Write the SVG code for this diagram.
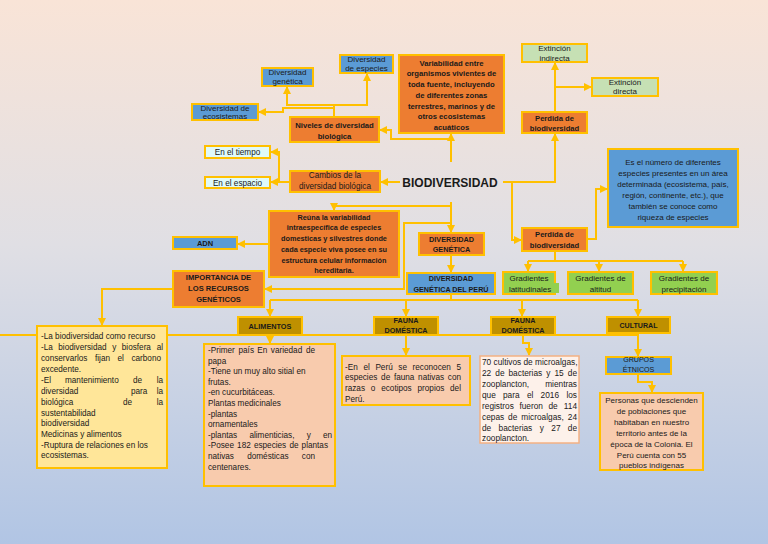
<svg xmlns="http://www.w3.org/2000/svg" width="768" height="544" viewBox="0 0 768 544">
<defs>
<linearGradient id="bg" x1="0" y1="0" x2="0" y2="1">
<stop offset="0" stop-color="#f9e4d7"/>
<stop offset="0.45" stop-color="#e0dfe4"/>
<stop offset="1" stop-color="#b1c5e4"/>
</linearGradient>
<marker id="ar" viewBox="0 0 8 8" refX="7" refY="4" markerWidth="8" markerHeight="8" markerUnits="userSpaceOnUse" orient="auto">
<path d="M0,0 L8,4 L0,8 z" fill="#ffc000"/>
</marker>
<style>
.c{fill:none;stroke:#ffc000;stroke-width:2}
.a{marker-end:url(#ar)}
.b{stroke:#ffc000;stroke-width:2}
.or{fill:#ed7d31}
.bl{fill:#5b9bd5}
.cy{fill:#dffafa}
.lg{fill:#c6e0b4}
.gr{fill:#92d050}
.go{fill:#bf9000}
.pe{fill:#f8cbad}
.ye{fill:#ffe699}
.wh{fill:#fdf1ea;stroke:#f4b183;stroke-width:1.5}
text{font-family:"Liberation Sans",Arial,sans-serif;font-size:8.2px;fill:#1a1a1a}
.m{text-anchor:middle}
.e{text-anchor:end}
.bd{font-weight:bold}
.s8{font-size:8px}
.f2{font-size:8.3px}
</style>
</defs>
<rect width="768" height="544" fill="url(#bg)"/>
<g id="connectors">
<path class="c a" d="M334,117 V105 H287 V87"/>
<path class="c a" d="M334,105 H367 V74"/>
<path class="c a" d="M334,108 H283 V112 H259"/>
<path class="c a" d="M451,162 V134"/>
<path class="c a" d="M451,139 H391 V130 H380"/>
<path class="c a" d="M400,182 H381"/>
<path class="c a" d="M290,182 H279 V152 H271"/>
<path class="c a" d="M279,182 H271"/>
<path class="c a" d="M503,182 H555 V134"/>
<path class="c a" d="M555,112 V63"/>
<path class="c a" d="M555,87 H591"/>
<path class="c a" d="M512,182 V240 H521"/>
<path class="c a" d="M587,239 H596 V189 H607"/>
<path class="c" d="M555,251 V261 M528,261 H683"/>
<path class="c a" d="M528,261 V271"/>
<path class="c a" d="M599,261 V271"/>
<path class="c a" d="M683,261 V271"/>
<path class="c a" d="M451,202 V232"/>
<path class="c a" d="M451,206 H334 V210"/>
<path class="c a" d="M451,223 H404 V289 H265"/>
<path class="c a" d="M269,244 H238"/>
<path class="c a" d="M451,255 V272"/>
<path class="c" d="M451,294 V300 M270,300 H638"/>
<path class="c a" d="M270,300 V316"/>
<path class="c a" d="M406,300 V316"/>
<path class="c a" d="M522,300 V316"/>
<path class="c a" d="M638,300 V316"/>
<path class="c a" d="M173,289 H102 V325"/>
<path class="c a" d="M0,335 H638 V356"/>
<path class="c a" d="M270,335 V343"/>
<path class="c a" d="M406,335 V355"/>
<path class="c a" d="M523,335 V343 H529 V355"/>
<path class="c a" d="M638,374 V382 H652 V392"/>
</g>
<g id="n-genetica"><rect class="bl b" x="262" y="68" width="51" height="18"/><text class="m s8" x="287.5" y="75">Diversidad</text><text class="m s8" x="287.5" y="84">genética</text></g>
<g id="n-especies"><rect class="bl b" x="340" y="55" width="53" height="18"/><text class="m s8" x="366.5" y="62">Diversidad</text><text class="m s8" x="366.5" y="71">de especies</text></g>
<g id="n-ecosistemas"><rect class="bl b" x="192" y="104" width="66" height="16"/><text class="m s8" x="225" y="111">Diversidad de</text><text class="m s8" x="225" y="118.8">ecosistemas</text></g>
<g id="n-niveles"><rect class="or b" x="290" y="117" width="89" height="25"/><text class="m bd" x="334.5" y="128" style="font-size:7.7px">Niveles de diversidad</text><text class="m bd" x="334.5" y="139" style="font-size:7.7px">biológica</text></g>
<g id="n-variabilidad"><rect class="or b" x="399" y="55" width="105" height="78"/>
<g class="bd" style="font-size:7.7px">
<text class="m bd" x="451.5" y="65.5" style="font-size:7.7px">Variabilidad entre</text>
<text class="m bd" x="451.5" y="76.3" style="font-size:7.7px">organismos vivientes de</text>
<text class="m bd" x="451.5" y="87" style="font-size:7.7px">toda fuente, incluyendo</text>
<text class="m bd" x="451.5" y="97.8" style="font-size:7.7px">de diferentes zonas</text>
<text class="m bd" x="451.5" y="108.5" style="font-size:7.7px">terrestres, marinos y de</text>
<text class="m bd" x="451.5" y="119.3" style="font-size:7.7px">otros ecosistemas</text>
<text class="m bd" x="451.5" y="130" style="font-size:7.7px">acuáticos</text></g></g>
<g id="n-ext-ind"><rect class="lg b" x="522" y="44" width="65" height="18"/><text class="m s8" x="554.5" y="51">Extinción</text><text class="m s8" x="554.5" y="60.5">indirecta</text></g>
<g id="n-ext-dir"><rect class="lg b" x="592" y="78" width="66" height="18"/><text class="m s8" x="625" y="84.5">Extinción</text><text class="m s8" x="625" y="94">directa</text></g>
<g id="n-perdida1"><rect class="or b" x="522" y="112" width="65" height="21"/><text class="m bd" x="554.5" y="120.5" style="font-size:7.6px">Perdida de</text><text class="m bd" x="554.5" y="130.5" style="font-size:7.6px">biodiversidad</text></g>
<g id="n-tiempo"><rect class="cy b" x="205" y="146" width="65" height="12"/><text class="m" x="237.5" y="155">En el tiempo</text></g>
<g id="n-espacio"><rect class="cy b" x="205" y="177" width="65" height="11"/><text class="m" x="237.5" y="185.8">En el espacio</text></g>
<g id="n-cambios"><rect class="or b" x="290" y="171" width="90" height="21"/><text class="m" x="335" y="178.3">Cambios de la</text><text class="m" x="335" y="189">diversidad biológica</text></g>
<g id="n-bio"><text class="m bd" x="450" y="186.5" style="font-size:12px">BIODIVERSIDAD</text></g>
<g id="n-numero"><rect class="bl b" x="608" y="149" width="130" height="78"/>
<text class="m s8" x="673" y="164.5">Es el número de diferentes</text>
<text class="m s8" x="673" y="175.5">especies presentes en un área</text>
<text class="m s8" x="673" y="186.5">determinada (ecosistema, país,</text>
<text class="m s8" x="673" y="197.5">región, continente, etc.), que</text>
<text class="m s8" x="673" y="208.5">también se conoce como</text>
<text class="m s8" x="673" y="219.5">riqueza de especies</text></g>
<g id="n-perdida2"><rect class="or b" x="522" y="228" width="65" height="23"/><text class="m bd" x="554.5" y="237" style="font-size:7.6px">Perdida de</text><text class="m bd" x="554.5" y="248" style="font-size:7.6px">biodiversidad</text></g>
<g id="n-lat"><rect class="gr b" x="503" y="272" width="52" height="22"/><rect class="gr" x="552" y="283" width="7" height="10"/><text class="m s8" x="529" y="281">Gradientes</text><text class="m s8" x="530" y="292">latitudinales</text></g>
<g id="n-alt"><rect class="gr b" x="568" y="272" width="65" height="22"/><text class="m s8" x="600.5" y="281">Gradientes de</text><text class="m s8" x="600.5" y="292">altitud</text></g>
<g id="n-prec"><rect class="gr b" x="651" y="272" width="66" height="22"/><text class="m s8" x="684" y="280.5">Gradientes de</text><text class="m s8" x="684" y="291.5">precipitación</text></g>
<g id="n-reuna"><rect class="or b" x="269" y="211" width="130" height="66"/>
<text class="m bd" x="334" y="219.5" style="font-size:7.3px">Reúna la variabilidad</text>
<text class="m bd" x="334" y="230.3" style="font-size:7.3px">intraespecífica de especies</text>
<text class="m bd" x="334" y="241" style="font-size:7.3px">domesticas y silvestres donde</text>
<text class="m bd" x="334" y="251.8" style="font-size:7.3px">cada especie viva posee en su</text>
<text class="m bd" x="334" y="262.5" style="font-size:7.3px">estructura celular información</text>
<text class="m bd" x="334" y="273.3" style="font-size:7.3px">hereditaria.</text></g>
<g id="n-divgen"><rect class="or b" x="419" y="233" width="65" height="22"/><text class="m bd" x="451.5" y="242" style="font-size:7.3px">DIVERSIDAD</text><text class="m bd" x="451.5" y="252.3" style="font-size:7.3px">GENÉTICA</text></g>
<g id="n-adn"><rect class="bl b" x="173" y="237" width="64" height="12"/><text class="m bd" x="205" y="246" style="font-size:7.5px">ADN</text></g>
<g id="n-peru"><rect class="bl b" x="407" y="273" width="88" height="21"/><text class="m bd" x="451" y="281" style="font-size:7.2px">DIVERSIDAD</text><text class="m bd" x="451" y="291.5" style="font-size:7.2px">GENÉTICA DEL PERÚ</text></g>
<g id="n-importancia"><rect class="or b" x="173" y="271" width="91" height="36"/><text class="m bd" x="218.5" y="280" style="font-size:7.6px">IMPORTANCIA DE</text><text class="m bd" x="218.5" y="291.3" style="font-size:7.6px">LOS RECURSOS</text><text class="m bd" x="218.5" y="302.3" style="font-size:7.6px">GENÉTICOS</text></g>
<g id="n-alimentos"><rect class="go b" x="238" y="317" width="64" height="18"/><text class="m bd" x="270" y="329" style="font-size:7.3px">ALIMENTOS</text></g>
<g id="n-fauna1"><rect class="go b" x="374" y="317" width="64" height="18"/><text class="m bd" x="406" y="323" style="font-size:7.2px">FAUNA</text><text class="m bd" x="406" y="333" style="font-size:7.2px">DOMÉSTICA</text></g>
<g id="n-fauna2"><rect class="go b" x="491" y="317" width="64" height="18"/><text class="m bd" x="523" y="323" style="font-size:7.2px">FAUNA</text><text class="m bd" x="523" y="333" style="font-size:7.2px">DOMÉSTICA</text></g>
<g id="n-cultural"><rect class="go b" x="607" y="317" width="63" height="16"/><text class="m bd" x="638.5" y="328" style="font-size:7.1px">CULTURAL</text></g>
<g id="n-recurso"><rect class="ye b" x="37" y="326" width="130" height="142"/>
<text x="41" y="338.5">-La biodiversidad como recurso</text>
<text y="349.5"><tspan x="41">-La</tspan><tspan x="58.3">biodiversidad</tspan><tspan x="112.2">y</tspan><tspan x="121.8">biosfera</tspan><tspan class="e" x="163">al</tspan></text>
<text y="360.5"><tspan x="41">conservarlos</tspan><tspan x="95">fijan</tspan><tspan x="117.5">el</tspan><tspan class="e" x="161">carbono</tspan></text>
<text x="41" y="371.5">excedente.</text>
<text y="383"><tspan x="41">-El</tspan><tspan x="65">mantenimiento</tspan><tspan x="133">de</tspan><tspan class="e" x="163">la</tspan></text>
<text y="393.5"><tspan x="41">diversidad</tspan><tspan x="131">para</tspan><tspan class="e" x="163">la</tspan></text>
<text y="404.5"><tspan x="41">biológica</tspan><tspan x="123">de</tspan><tspan class="e" x="163">la</tspan></text>
<text x="41" y="415.5">sustentabilidad</text>
<text x="41" y="426">biodiversidad</text>
<text x="41" y="436.5">Medicinas y alimentos</text>
<text x="41" y="447.5">-Ruptura de relaciones en los</text>
<text x="41" y="458">ecosistemas.</text></g>
<g id="n-alim-txt"><rect class="pe b" x="204" y="344" width="131" height="142"/>
<text y="352.5"><tspan x="208">-Primer</tspan><tspan x="238.5">país</tspan><tspan x="257.2">En</tspan><tspan x="270.8">variedad</tspan><tspan class="e" x="315">de</tspan></text>
<text x="208" y="363.5">papa</text>
<text x="208" y="374">-Tiene un muy alto sitial en</text>
<text x="208" y="384.5">frutas.</text>
<text x="208" y="395">-en cucurbitáceas.</text>
<text x="208" y="405.5">Plantas medicinales</text>
<text x="208" y="416.5">-plantas</text>
<text x="208" y="427">ornamentales</text>
<text y="437.5"><tspan x="208">-plantas</tspan><tspan x="249.4">alimenticias,</tspan><tspan x="306.7">y</tspan><tspan class="e" x="332">en</tspan></text>
<text y="448"><tspan x="208">-Posee</tspan><tspan x="237.1">182</tspan><tspan x="253.9">especies</tspan><tspan x="289.4">de</tspan><tspan class="e" x="328">plantas</tspan></text>
<text y="458.5"><tspan x="208">nativas</tspan><tspan x="247.2">domésticas</tspan><tspan class="e" x="315">con</tspan></text>
<text x="208" y="469.5">centenares.</text></g>
<g id="n-fauna1-txt"><rect class="pe b" x="342" y="356" width="128" height="49"/>
<text y="369.5"><tspan x="345">-En</tspan><tspan x="363.4">el</tspan><tspan x="375.4">Perú</tspan><tspan x="398.3">se</tspan><tspan x="412.6">reconocen</tspan><tspan class="e" x="461">5</tspan></text>
<text y="380"><tspan x="345">especies</tspan><tspan x="381.1">de</tspan><tspan x="393.9">fauna</tspan><tspan x="418.1">nativas</tspan><tspan class="e" x="461">con</tspan></text>
<text y="391"><tspan x="345">razas</tspan><tspan x="370.8">o</tspan><tspan x="381.2">ecotipos</tspan><tspan x="417.5">propios</tspan><tspan class="e" x="461">del</tspan></text>
<text x="345" y="401.5">Perú.</text></g>
<g id="n-fauna2-txt"><rect class="wh" x="480" y="356" width="99" height="87"/>
<text class="f2" x="482" y="365">70 cultivos de microalgas,</text>
<text class="f2" y="376"><tspan x="482">22</tspan><tspan x="495.3">de</tspan><tspan x="508.5">bacterias</tspan><tspan x="546.3">y</tspan><tspan x="554.5">15</tspan><tspan class="e" x="577">de</tspan></text>
<text class="f2" y="387"><tspan x="482">zooplancton,</tspan><tspan class="e" x="577">mientras</tspan></text>
<text class="f2" y="398"><tspan x="482">que</tspan><tspan x="503">para</tspan><tspan x="526.9">el</tspan><tspan x="540.6">2016</tspan><tspan class="e" x="577">los</tspan></text>
<text class="f2" y="409"><tspan x="482">registros</tspan><tspan x="519.4">fueron</tspan><tspan x="548.5">de</tspan><tspan class="e" x="577">114</tspan></text>
<text class="f2" y="420"><tspan x="482">cepas</tspan><tspan x="508.1">de</tspan><tspan x="521.3">microalgas,</tspan><tspan class="e" x="577">24</tspan></text>
<text class="f2" y="430.5"><tspan x="482">de</tspan><tspan x="498.6">bacterias</tspan><tspan x="539.7">y</tspan><tspan x="551.3">27</tspan><tspan class="e" x="577">de</tspan></text>
<text class="f2" x="482" y="441">zooplancton.</text></g>
<g id="n-grupos"><rect class="bl b" x="606" y="357" width="65" height="17"/><text class="m" x="638.5" y="362" style="font-size:7.1px">GRUPOS</text><text class="m" x="638.5" y="372" style="font-size:7.1px">ÉTNICOS</text></g>
<g id="n-grupos-txt"><rect class="pe b" x="600" y="393" width="103" height="77"/>
<text class="m s8" x="651.5" y="403">Personas que descienden</text>
<text class="m s8" x="651.5" y="413.5">de poblaciones que</text>
<text class="m s8" x="651.5" y="424.5">habitaban en nuestro</text>
<text class="m s8" x="651.5" y="435.5">territorio antes de la</text>
<text class="m s8" x="651.5" y="446.5">época de la Colonia. El</text>
<text class="m s8" x="651.5" y="457.5">Perú cuenta con 55</text>
<text class="m s8" x="651.5" y="468">pueblos indígenas</text></g>
</svg>
